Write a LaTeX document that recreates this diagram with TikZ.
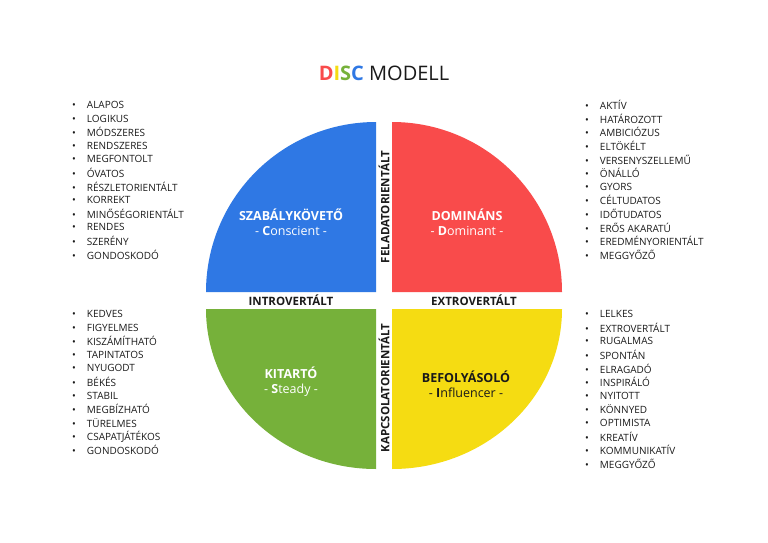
\documentclass[tikz,border=0pt]{standalone}
\usepackage{fontspec}
\setmainfont{Open Sans}
\definecolor{cblue}{HTML}{2F78E4}
\definecolor{cred}{HTML}{F94B4B}
\definecolor{cgreen}{HTML}{76B13A}
\definecolor{cyel}{HTML}{F5DC12}
\definecolor{ctxt}{HTML}{1A1A1A}
\begin{document}
\begin{tikzpicture}[x=1pt,y=-1pt,
  item/.style={anchor=west,font=\fontsize{10}{12}\selectfont,text=ctxt,inner sep=0pt},
  axis/.style={font=\bfseries\fontsize{11.5}{13}\selectfont,text=ctxt,inner sep=0pt},
  qtitle/.style={font=\bfseries\fontsize{12.5}{14}\selectfont,inner sep=0pt,align=center}]
\useasboundingbox[fill=white] (0,0) rectangle (768,543);
\node[inner sep=0pt,font=\fontsize{20}{24}\selectfont] (title) at (384,73) {\textcolor{cred}{\bfseries D}\textcolor{cyel}{\bfseries I}\textcolor{cgreen}{\bfseries S}\textcolor{cblue}{\bfseries C} \textcolor{ctxt}{MODELL}};
\fill[cblue] (376,292) -- (206,292) arc[start angle=180,end angle=90,x radius=170,y radius=-170] -- cycle;
\fill[cred] (392,292) -- (392,122) arc[start angle=90,end angle=0,x radius=170,y radius=-170] -- cycle;
\fill[cgreen] (376,309) -- (376,469) arc[start angle=270,end angle=180,x radius=170,y radius=-160] -- cycle;
\fill[cyel] (392,309) -- (562,309) arc[start angle=0,end angle=-90,x radius=170,y radius=-160] -- cycle;
\node[qtitle,text=white] (c) at (291,222) {SZABÁLYKÖVETŐ\\[1pt]{\mdseries - \textbf{C}onscient -}};
\node[qtitle,text=white] (d) at (467,222) {DOMINÁNS\\[1pt]{\mdseries - \textbf{D}ominant -}};
\node[qtitle,text=white] (s) at (291,382) {KITARTÓ\\[1pt]{\mdseries - \textbf{S}teady -}};
\node[qtitle,text=ctxt] (i) at (466,384) {BEFOLYÁSOLÓ\\[1pt]{\mdseries - \textbf{I}nfluencer -}};
\node[axis] (intro) at (291,300) {INTROVERTÁLT};
\node[axis] (extro) at (474,300) {EXTROVERTÁLT};
\node[axis,rotate=90] (fel) at (384,207) {FELADATORIENTÁLT};
\node[axis,rotate=90] (kap) at (384,388) {KAPCSOLATORIENTÁLT};
\foreach \t [count=\k] in {ALAPOS,LOGIKUS,MÓDSZERES,RENDSZERES,MEGFONTOLT,ÓVATOS,RÉSZLETORIENTÁLT,KORREKT,MINŐSÉGORIENTÁLT,RENDES,SZERÉNY,GONDOSKODÓ}
  \node[item] (tl\k) at (72,{105+13.6*(\k-1)}) {•\hspace{11pt}\t};
\foreach \t [count=\k] in {AKTÍV,HATÁROZOTT,AMBICIÓZUS,ELTÖKÉLT,VERSENYSZELLEMŰ,ÖNÁLLÓ,GYORS,CÉLTUDATOS,IDŐTUDATOS,ERŐS AKARATÚ,EREDMÉNYORIENTÁLT,MEGGYŐZŐ}
  \node[item] (tr\k) at (585,{105+13.6*(\k-1)}) {•\hspace{11pt}\t};
\foreach \t [count=\k] in {KEDVES,FIGYELMES,KISZÁMÍTHATÓ,TAPINTATOS,NYUGODT,BÉKÉS,STABIL,MEGBÍZHATÓ,TÜRELMES,CSAPATJÁTÉKOS,GONDOSKODÓ}
  \node[item] (bl\k) at (72,{314+13.6*(\k-1)}) {•\hspace{11pt}\t};
\foreach \t [count=\k] in {LELKES,EXTROVERTÁLT,RUGALMAS,SPONTÁN,ELRAGADÓ,INSPIRÁLÓ,NYITOTT,KÖNNYED,OPTIMISTA,KREATÍV,KOMMUNIKATÍV,MEGGYŐZŐ}
  \node[item] (br\k) at (585,{314+13.6*(\k-1)}) {•\hspace{11pt}\t};
\end{tikzpicture}
\end{document}
